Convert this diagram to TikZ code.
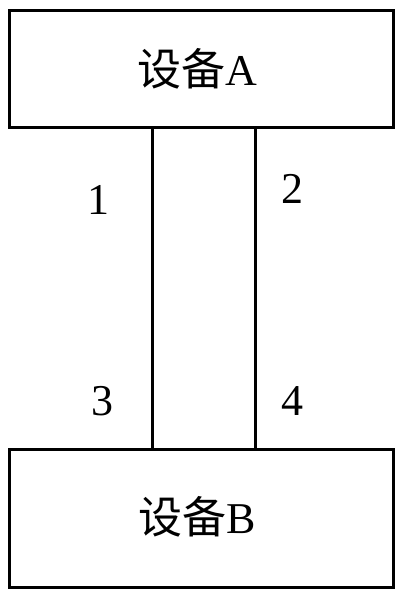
\documentclass[tikz,border=0pt]{standalone}
\usepackage{fontspec}
\setmainfont{Liberation Serif}
\newfontfamily\cjk{Noto Sans CJK SC}
\begin{document}
\begin{tikzpicture}[x=1pt,y=-1pt,
  devbox/.style={draw,line width=2.8pt,minimum width=384pt,inner sep=0pt},
  devtext/.style={font=\fontsize{44}{48}\selectfont,inner sep=0pt},
  portlab/.style={font=\fontsize{44}{48}\selectfont,inner sep=0pt},
  link/.style={line width=3pt}]
\useasboundingbox (0,0) rectangle (401,600);
\node[devbox,minimum height=117pt,anchor=north west] (A) at (8,9) {};
\node[devbox,minimum height=138pt,anchor=north west] (B) at (8,448) {};
\node[devtext] (tA) at (197,69) {{\cjk 设备}A};
\node[devtext] (tB) at (197,517) {{\cjk 设备}B};
\coordinate (a1) at (152,126);
\coordinate (a2) at (255,126);
\coordinate (b1) at (152,448);
\coordinate (b2) at (255,448);
\draw[link] (a1) -- (b1);
\draw[link] (a2) -- (b2);
\node[portlab] (p1) at (98,200) {1};
\node[portlab] (p2) at (292,189) {2};
\node[portlab] (p3) at (102,401) {3};
\node[portlab] (p4) at (292,401) {4};
\end{tikzpicture}
\end{document}
